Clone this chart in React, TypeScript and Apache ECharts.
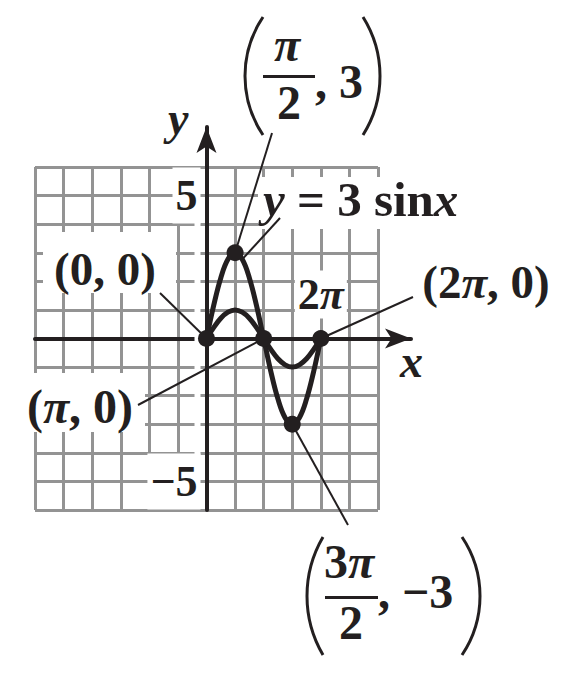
import React, { useRef, useEffect } from 'react';
import * as echarts from 'echarts';

// x is measured in grid squares, one square = π/2
const xSteps = [0, 0.25, 0.5, 0.75, 1, 1.25, 1.5, 1.75, 2, 2.25, 2.5, 2.75, 3, 3.25, 3.5, 3.75, 4];
const threeSinX = [0, 1.15, 2.12, 2.77, 3, 2.77, 2.12, 1.15, 0, -1.15, -2.12, -2.77, -3, -2.77, -2.12, -1.15, 0];
const sinX = [0, 0.38, 0.71, 0.92, 1, 0.92, 0.71, 0.38, 0, -0.38, -0.71, -0.92, -1, -0.92, -0.71, -0.38, 0];
const keyX = [0, 1, 2, 3, 4];
const keyY = [0, 3, 0, -3, 0];
const yTickLabels: Record<number, string> = { 5: '5', [-5]: '−5' };
const xTickLabels: Record<number, string> = { 4: '2{i|π}' };

const FONT = "'Liberation Serif', 'Times New Roman', serif";
const INK = '#231f20';
const GRAY = '#939393';

const italic = { fontStyle: 'italic', fontWeight: 'bold', fontSize: 46, fontFamily: FONT, fill: INK };

const txt = (text: string, x: number, y: number, align = 'center', size = 46) => ({
  type: 'text',
  z: 20,
  style: {
    text, x, y,
    fontSize: size, fontWeight: 'bold', fontFamily: FONT, fill: INK,
    textAlign: align, textVerticalAlign: 'middle', verticalAlign: 'middle',
    rich: { i: { ...italic, fontSize: size } },
  },
});

const whiteBox = (x1: number, y1: number, x2: number, y2: number) => ({
  type: 'rect', z: 5,
  shape: { x: x1, y: y1, width: x2 - x1, height: y2 - y1 },
  style: { fill: '#fff' },
});

const leader = (a: number[], b: number[]) => ({
  type: 'line', z: 8,
  shape: { x1: a[0], y1: a[1], x2: b[0], y2: b[1] },
  style: { stroke: INK, lineWidth: 2 },
});

// tall thin bracket drawn as a shallow arc
const paren = (side: 'l' | 'r', xOuter: number, yTop: number, yBot: number, bulge: number) => {
  const h = (yBot - yTop) / 2;
  const r = (h * h + bulge * bulge) / (2 * bulge);
  const a = Math.asin(h / r);
  const mid = side === 'l' ? Math.PI : 0;
  return {
    type: 'arc', z: 20,
    shape: {
      cx: side === 'l' ? xOuter + r : xOuter - r,
      cy: (yTop + yBot) / 2,
      r, startAngle: mid - a, endAngle: mid + a, clockwise: true,
    },
    style: { stroke: INK, lineWidth: 3, fill: null },
  };
};

const bar = (x1: number, x2: number, y: number) => ({
  type: 'rect', z: 20,
  shape: { x: x1, y, width: x2 - x1, height: 3 },
  style: { fill: INK },
});

const App: React.FC = () => {
  const chartRef = useRef<HTMLDivElement>(null);

  useEffect(() => {
    if (!chartRef.current) return;
    const chart = echarts.init(chartRef.current, undefined, { renderer: 'svg' });

    const labelFont = { fontSize: 44, fontWeight: 'bold', fontFamily: FONT, color: INK };
    const nameFont = { fontSize: 46, fontStyle: 'italic', fontWeight: 'bold', fontFamily: FONT, color: INK };
    const arrowLine = {
      show: true, onZero: true, symbol: ['none', 'arrow'], symbolSize: [15, 26],
      lineStyle: { color: INK, width: 4 },
    };
    const bare = { axisLine: { show: false }, axisTick: { show: false }, splitLine: { show: false } };
    const paper = {
      type: 'value', min: -6, max: 6, interval: 1, z: 0,
      axisLine: { show: false }, axisTick: { show: false }, axisLabel: { show: false },
      splitLine: { show: true, lineStyle: { color: GRAY, width: 3 } },
    };
    const gridBase = { outerBoundsMode: 'none', containLabel: false };

    const option: any = {
      animation: false,
      grid: [
        // 0: squared paper, -6..6, holds the curves
        { ...gridBase, left: 35, top: 167, width: 343, height: 343 },
        // 1: arrowed axes, same scale
        { ...gridBase, left: 35, top: 127, width: 376, height: 383 },
        // 2: right half, its left edge is the y axis (y tick labels)
        { ...gridBase, left: 206.5, top: 167, width: 171.5, height: 343 },
        // 3: upper half, its bottom edge is the x axis (x tick labels)
        { ...gridBase, left: 35, top: 167, width: 343, height: 171.5 },
      ],
      xAxis: [
        { gridIndex: 0, ...paper },
        {
          gridIndex: 1, type: 'value', min: -6, max: 7.155, z: 2,
          axisLine: arrowLine, axisTick: { show: false }, splitLine: { show: false },
          axisLabel: { show: false },
          name: 'x', nameLocation: 'end', nameGap: 12,
          nameTextStyle: { ...nameFont, align: 'right', verticalAlign: 'top' },
        },
        { gridIndex: 2, type: 'value', min: 0, max: 6, show: false },
        {
          gridIndex: 3, type: 'value', min: -6, max: 6, interval: 1, z: 3, ...bare,
          axisLabel: {
            inside: true, margin: 20,
            formatter: (v: number) => xTickLabels[v] ?? '',
            ...labelFont, backgroundColor: '#fff', padding: [2, 3, 2, 3],
            rich: { i: { ...italic, fontSize: 44, color: INK } },
          },
        },
      ],
      yAxis: [
        { gridIndex: 0, ...paper },
        {
          gridIndex: 1, type: 'value', min: -6, max: 7.4, z: 2,
          axisLine: arrowLine, axisTick: { show: false }, splitLine: { show: false },
          axisLabel: { show: false },
          name: 'y', nameLocation: 'end', nameGap: 9,
          nameTextStyle: { ...nameFont, align: 'right', verticalAlign: 'middle', padding: [0, 18, 0, 0] },
        },
        {
          gridIndex: 2, type: 'value', min: -6, max: 6, interval: 1, z: 3, ...bare,
          axisLabel: {
            margin: 6,
            formatter: (v: number) => yTickLabels[v] ?? '',
            ...labelFont, backgroundColor: '#fff', padding: [6, 3, 6, 3],
          },
        },
        { gridIndex: 3, type: 'value', min: 0, max: 6, show: false },
      ],
      series: [
        {
          name: 'y = 3 sin x', type: 'line', xAxisIndex: 0, yAxisIndex: 0, z: 12,
          data: xSteps.map((x, i) => [x, threeSinX[i]]),
          smooth: 0.4, symbol: 'none', lineStyle: { color: INK, width: 5 },
        },
        {
          name: 'y = sin x', type: 'line', xAxisIndex: 0, yAxisIndex: 0, z: 12,
          data: xSteps.map((x, i) => [x, sinX[i]]),
          smooth: 0.4, symbol: 'none', lineStyle: { color: INK, width: 5 },
        },
        {
          name: 'key points', type: 'scatter', xAxisIndex: 0, yAxisIndex: 0, z: 13,
          data: keyX.map((x, i) => [x, keyY[i]]),
          symbolSize: 17, itemStyle: { color: INK, opacity: 1 },
        },
      ],
    };
    chart.setOption(option);

    const px = (x: number, y: number) => chart.convertToPixel({ gridIndex: 0 }, [x, y]) as number[];
    const dots = keyX.map((x, i) => px(x, keyY[i]));
    // where each leader line ends, next to its label
    const leaderEnds = [[160, 293], [272, 133], [138, 405], [348, 525], [413, 297]];

    chart.setOption({
      graphic: [
        whiteBox(43, 232, 176, 293),
        whiteBox(0, 373, 145, 432),
        whiteBox(258, 177, 472, 229),
        ...dots.map((d, i) => leader(d, leaderEnds[i])),
        leader(px(xSteps[5], threeSinX[5]), [280, 218]),
        txt('(0, 0)', 105, 269, 'center', 47),
        txt('({i|π}, 0)', 80, 406, 'center', 48),
        txt('{i|y} = 3 sin{i|x}', 263, 199, 'left', 49),
        txt('(2{i|π}, 0)', 486, 282, 'center', 47),
        // (π/2, 3)
        paren('l', 245, 17, 135, 18),
        txt('{i|π}', 287, 44, 'center', 48),
        bar(263, 315, 75),
        txt('2', 289, 102, 'center', 48),
        txt(', 3', 315, 81, 'left', 48),
        paren('r', 380, 17, 135, 17),
        // (3π/2, −3)
        paren('l', 307, 537, 655, 16),
        txt('3{i|π}', 349, 561, 'center', 48),
        bar(325, 378, 596),
        txt('2', 351, 622, 'center', 48),
        txt(', −3', 378, 591, 'left', 48),
        paren('r', 480, 537, 655, 18),
      ],
    });

    const resize = () => chart.resize();
    window.addEventListener('resize', resize);
    return () => {
      window.removeEventListener('resize', resize);
      chart.dispose();
    };
  }, []);

  return (
    <div
      ref={chartRef}
      style={{ position: 'absolute', left: 0, top: 0, width: 569, height: 677, background: '#fff' }}
    />
  );
};

export default App;
